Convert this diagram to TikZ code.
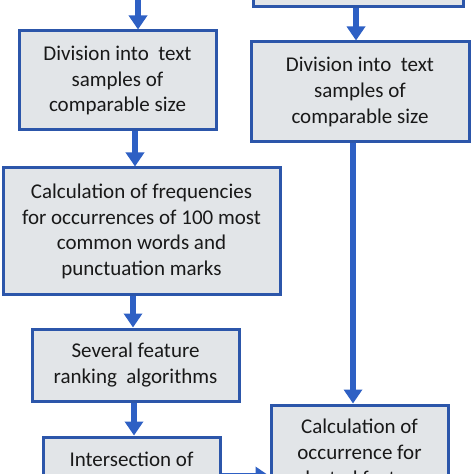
\documentclass[tikz,border=0pt]{standalone}
\usepackage{fontspec}
\setmainfont{Carlito}
\usetikzlibrary{arrows.meta,positioning}
\definecolor{boxblue}{RGB}{44,86,170}
\definecolor{arrowblue}{RGB}{46,96,196}
\definecolor{boxgray}{RGB}{226,229,232}
\tikzset{
  stage/.style={draw=boxblue, line width=1.5pt, fill=boxgray, align=center,
    inner sep=2pt, text=black!90, font=\fontsize{10.5}{12.9}\selectfont},
  flow/.style={draw=arrowblue, line width=2.6pt, -{Triangle[width=9pt,length=7pt]}},
}
\begin{document}
\begin{tikzpicture}
  \useasboundingbox (0,0) rectangle (237pt,-237pt);
  \clip (0,0) rectangle (237pt,-237pt);
  % left column
  \node (L1) [stage, minimum width=98.5pt, minimum height=49.5pt] at (58.75pt,-40.25pt) {Division into\ \ text\\samples of\\comparable size};
  \node (L2) [stage, minimum width=138.5pt, minimum height=63.5pt, below of=L1, node distance=75.5pt, xshift=12pt] {Calculation of frequencies\\for occurrences of 100 most\\common words and\\punctuation marks};
  \node (L3) [stage, minimum width=103.5pt, minimum height=36pt, below of=L2, node distance=66.75pt, xshift=-3pt] {Several feature\\ranking\ \ algorithms};
  \node (L4) [stage, minimum width=88.5pt, inner ysep=7.5pt, text height=7pt, text depth=29pt, below of=L3, node distance=61.5pt, xshift=-2pt] {Intersection of};
  % right column
  \node (R1) [stage, minimum width=109pt, minimum height=50pt, right of=L1, node distance=121.25pt, yshift=-5.75pt] {Division into\ \ text\\samples of\\comparable size};
  \node (R0) [stage, minimum width=105pt, minimum height=40pt, above of=R1, node distance=62.5pt, xshift=-1pt] {};
  \node (R3) [stage, minimum width=88.5pt, minimum height=47pt, below of=R1, node distance=180pt, xshift=-0.25pt] {Calculation of\\occurrence for\\selected features};
  \coordinate (top) at (69pt,6pt);
  % arrows
  \draw[flow] (top) -- ([xshift=10.25pt]L1.north);
  \draw[flow] ([xshift=8.75pt]L1.south) -- ([xshift=-3.25pt]L2.north);
  \draw[flow] ([xshift=-4.25pt]L2.south) -- ([xshift=-1.25pt]L3.north);
  \draw[flow] ([xshift=-0.75pt]L3.south) -- ([xshift=1.25pt]L4.north);
  \draw[flow] ([yshift=6pt]L4.east) -- ([yshift=6pt]L4.east -| R3.west);
  \draw[flow] ([xshift=-1pt]R0.south) -- ([xshift=-2pt]R1.north);
  \draw[flow] ([xshift=-3.5pt]R1.south) -- ([xshift=-3.25pt]R3.north);
\end{tikzpicture}
\end{document}
